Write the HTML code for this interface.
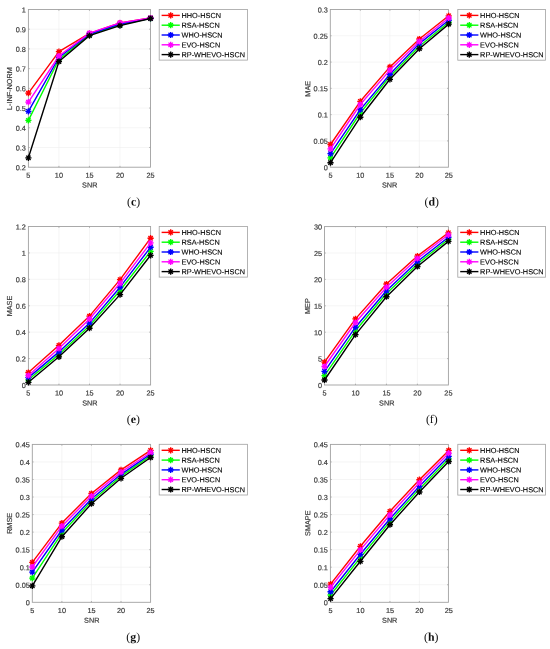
<!DOCTYPE html>
<html lang="en"><head><meta charset="utf-8"><title>Figure: error metrics versus SNR</title>
<style>html,body{margin:0;padding:0;background:#fff;}svg{display:block;}text{font-family:"Liberation Sans",Arial,sans-serif;text-rendering:geometricPrecision;stroke-width:0.18;paint-order:stroke fill;}.lg{stroke-width:0.12;}text.cap{stroke:none;font-family:"Liberation Serif","Times New Roman",serif;}</style></head><body>
<svg width="550" height="649" viewBox="0 0 550 649">
<rect x="0" y="0" width="550" height="649" fill="#ffffff"/>
<g id="plot-c">
<path d="M58.92 9.50V167.20M89.45 9.50V167.20M119.97 9.50V167.20M28.40 147.49H150.50M28.40 127.77H150.50M28.40 108.06H150.50M28.40 88.35H150.50M28.40 68.64H150.50M28.40 48.92H150.50M28.40 29.21H150.50" stroke="#efefef" stroke-width="0.6" fill="none"/>
<rect x="28.40" y="9.50" width="122.10" height="157.70" fill="none" stroke="#a0a0a0" stroke-width="0.9"/>
<path d="M58.92 167.20v-1.3M58.92 9.50v1.3M89.45 167.20v-1.3M89.45 9.50v1.3M119.97 167.20v-1.3M119.97 9.50v1.3M28.40 147.49h1.3M150.50 147.49h-1.3M28.40 127.77h1.3M150.50 127.77h-1.3M28.40 108.06h1.3M150.50 108.06h-1.3M28.40 88.35h1.3M150.50 88.35h-1.3M28.40 68.64h1.3M150.50 68.64h-1.3M28.40 48.92h1.3M150.50 48.92h-1.3M28.40 29.21h1.3M150.50 29.21h-1.3" stroke="#a0a0a0" stroke-width="0.8" fill="none"/>
<text transform="translate(28.40 177.80) rotate(0.04)" font-size="7.3" fill="#3a3a3a" stroke="#3a3a3a" text-anchor="middle">5</text>
<text transform="translate(58.92 177.80) rotate(0.04)" font-size="7.3" fill="#3a3a3a" stroke="#3a3a3a" text-anchor="middle">10</text>
<text transform="translate(89.45 177.80) rotate(0.04)" font-size="7.3" fill="#3a3a3a" stroke="#3a3a3a" text-anchor="middle">15</text>
<text transform="translate(119.97 177.80) rotate(0.04)" font-size="7.3" fill="#3a3a3a" stroke="#3a3a3a" text-anchor="middle">20</text>
<text transform="translate(150.50 177.80) rotate(0.04)" font-size="7.3" fill="#3a3a3a" stroke="#3a3a3a" text-anchor="middle">25</text>
<text transform="translate(25.90 170.15) rotate(0.04)" font-size="7.3" fill="#3a3a3a" stroke="#3a3a3a" text-anchor="end">0.2</text>
<text transform="translate(25.90 150.44) rotate(0.04)" font-size="7.3" fill="#3a3a3a" stroke="#3a3a3a" text-anchor="end">0.3</text>
<text transform="translate(25.90 130.72) rotate(0.04)" font-size="7.3" fill="#3a3a3a" stroke="#3a3a3a" text-anchor="end">0.4</text>
<text transform="translate(25.90 111.01) rotate(0.04)" font-size="7.3" fill="#3a3a3a" stroke="#3a3a3a" text-anchor="end">0.5</text>
<text transform="translate(25.90 91.30) rotate(0.04)" font-size="7.3" fill="#3a3a3a" stroke="#3a3a3a" text-anchor="end">0.6</text>
<text transform="translate(25.90 71.59) rotate(0.04)" font-size="7.3" fill="#3a3a3a" stroke="#3a3a3a" text-anchor="end">0.7</text>
<text transform="translate(25.90 51.88) rotate(0.04)" font-size="7.3" fill="#3a3a3a" stroke="#3a3a3a" text-anchor="end">0.8</text>
<text transform="translate(25.90 32.16) rotate(0.04)" font-size="7.3" fill="#3a3a3a" stroke="#3a3a3a" text-anchor="end">0.9</text>
<text transform="translate(25.90 12.45) rotate(0.04)" font-size="7.3" fill="#3a3a3a" stroke="#3a3a3a" text-anchor="end">1</text>
<text transform="translate(89.75 187.60) rotate(0.04)" font-size="7.25" fill="#3a3a3a" stroke="#3a3a3a" text-anchor="middle">SNR</text>
<text transform="translate(12.10 88.60) rotate(-89.96)" font-size="7.25" fill="#3a3a3a" stroke="#3a3a3a" text-anchor="middle">L-INF-NORM</text>
<polyline points="28.40,93.10 58.92,51.60 89.45,33.30 119.97,23.00 150.50,18.00" fill="none" stroke="#ff0000" stroke-width="1.4" stroke-linejoin="round"/>
<path d="M25.30 93.10H31.50M28.40 90.00V96.20M26.21 90.91L30.59 95.29M26.21 95.29L30.59 90.91" stroke="#ff0000" stroke-width="1.35" fill="none"/>
<path d="M55.82 51.60H62.02M58.92 48.50V54.70M56.73 49.41L61.12 53.79M56.73 53.79L61.12 49.41" stroke="#ff0000" stroke-width="1.35" fill="none"/>
<path d="M86.35 33.30H92.55M89.45 30.20V36.40M87.26 31.11L91.64 35.49M87.26 35.49L91.64 31.11" stroke="#ff0000" stroke-width="1.35" fill="none"/>
<path d="M116.88 23.00H123.07M119.97 19.90V26.10M117.78 20.81L122.17 25.19M117.78 25.19L122.17 20.81" stroke="#ff0000" stroke-width="1.35" fill="none"/>
<path d="M147.40 18.00H153.60M150.50 14.90V21.10M148.31 15.81L152.69 20.19M148.31 20.19L152.69 15.81" stroke="#ff0000" stroke-width="1.35" fill="none"/>
<polyline points="28.40,120.40 58.92,59.50 89.45,34.80 119.97,24.80 150.50,18.40" fill="none" stroke="#00ff00" stroke-width="1.4" stroke-linejoin="round"/>
<path d="M25.30 120.40H31.50M28.40 117.30V123.50M26.21 118.21L30.59 122.59M26.21 122.59L30.59 118.21" stroke="#00ff00" stroke-width="1.35" fill="none"/>
<path d="M55.82 59.50H62.02M58.92 56.40V62.60M56.73 57.31L61.12 61.69M56.73 61.69L61.12 57.31" stroke="#00ff00" stroke-width="1.35" fill="none"/>
<path d="M86.35 34.80H92.55M89.45 31.70V37.90M87.26 32.61L91.64 36.99M87.26 36.99L91.64 32.61" stroke="#00ff00" stroke-width="1.35" fill="none"/>
<path d="M116.88 24.80H123.07M119.97 21.70V27.90M117.78 22.61L122.17 26.99M117.78 26.99L122.17 22.61" stroke="#00ff00" stroke-width="1.35" fill="none"/>
<path d="M147.40 18.40H153.60M150.50 15.30V21.50M148.31 16.21L152.69 20.59M148.31 20.59L152.69 16.21" stroke="#00ff00" stroke-width="1.35" fill="none"/>
<polyline points="28.40,111.30 58.92,57.50 89.45,34.00 119.97,24.00 150.50,18.20" fill="none" stroke="#0000ff" stroke-width="1.4" stroke-linejoin="round"/>
<path d="M25.30 111.30H31.50M28.40 108.20V114.40M26.21 109.11L30.59 113.49M26.21 113.49L30.59 109.11" stroke="#0000ff" stroke-width="1.35" fill="none"/>
<path d="M55.82 57.50H62.02M58.92 54.40V60.60M56.73 55.31L61.12 59.69M56.73 59.69L61.12 55.31" stroke="#0000ff" stroke-width="1.35" fill="none"/>
<path d="M86.35 34.00H92.55M89.45 30.90V37.10M87.26 31.81L91.64 36.19M87.26 36.19L91.64 31.81" stroke="#0000ff" stroke-width="1.35" fill="none"/>
<path d="M116.88 24.00H123.07M119.97 20.90V27.10M117.78 21.81L122.17 26.19M117.78 26.19L122.17 21.81" stroke="#0000ff" stroke-width="1.35" fill="none"/>
<path d="M147.40 18.20H153.60M150.50 15.10V21.30M148.31 16.01L152.69 20.39M148.31 20.39L152.69 16.01" stroke="#0000ff" stroke-width="1.35" fill="none"/>
<polyline points="28.40,102.10 58.92,56.00 89.45,33.10 119.97,22.90 150.50,18.00" fill="none" stroke="#ff00ff" stroke-width="1.4" stroke-linejoin="round"/>
<path d="M25.30 102.10H31.50M28.40 99.00V105.20M26.21 99.91L30.59 104.29M26.21 104.29L30.59 99.91" stroke="#ff00ff" stroke-width="1.35" fill="none"/>
<path d="M55.82 56.00H62.02M58.92 52.90V59.10M56.73 53.81L61.12 58.19M56.73 58.19L61.12 53.81" stroke="#ff00ff" stroke-width="1.35" fill="none"/>
<path d="M86.35 33.10H92.55M89.45 30.00V36.20M87.26 30.91L91.64 35.29M87.26 35.29L91.64 30.91" stroke="#ff00ff" stroke-width="1.35" fill="none"/>
<path d="M116.88 22.90H123.07M119.97 19.80V26.00M117.78 20.71L122.17 25.09M117.78 25.09L122.17 20.71" stroke="#ff00ff" stroke-width="1.35" fill="none"/>
<path d="M147.40 18.00H153.60M150.50 14.90V21.10M148.31 15.81L152.69 20.19M148.31 20.19L152.69 15.81" stroke="#ff00ff" stroke-width="1.35" fill="none"/>
<polyline points="28.40,157.80 58.92,61.50 89.45,35.60 119.97,25.60 150.50,18.50" fill="none" stroke="#000000" stroke-width="1.4" stroke-linejoin="round"/>
<path d="M25.30 157.80H31.50M28.40 154.70V160.90M26.21 155.61L30.59 159.99M26.21 159.99L30.59 155.61" stroke="#000000" stroke-width="1.35" fill="none"/>
<path d="M55.82 61.50H62.02M58.92 58.40V64.60M56.73 59.31L61.12 63.69M56.73 63.69L61.12 59.31" stroke="#000000" stroke-width="1.35" fill="none"/>
<path d="M86.35 35.60H92.55M89.45 32.50V38.70M87.26 33.41L91.64 37.79M87.26 37.79L91.64 33.41" stroke="#000000" stroke-width="1.35" fill="none"/>
<path d="M116.88 25.60H123.07M119.97 22.50V28.70M117.78 23.41L122.17 27.79M117.78 27.79L122.17 23.41" stroke="#000000" stroke-width="1.35" fill="none"/>
<path d="M147.40 18.50H153.60M150.50 15.40V21.60M148.31 16.31L152.69 20.69M148.31 20.69L152.69 16.31" stroke="#000000" stroke-width="1.35" fill="none"/>
<rect x="159.20" y="9.40" width="88.20" height="50.70" fill="#ffffff" stroke="#a0a0a0" stroke-width="0.8"/>
<path d="M161.60 15.40H179.80" stroke="#ff0000" stroke-width="1.4"/>
<path d="M167.60 15.40H173.80M170.70 12.30V18.50M168.51 13.21L172.89 17.59M168.51 17.59L172.89 13.21" stroke="#ff0000" stroke-width="1.35" fill="none"/>
<text class="lg" transform="translate(181.50 18.00) rotate(0.04)" font-size="7.33" fill="#000000" stroke="#000000">HHO-HSCN</text>
<path d="M161.60 25.20H179.80" stroke="#00ff00" stroke-width="1.4"/>
<path d="M167.60 25.20H173.80M170.70 22.10V28.30M168.51 23.01L172.89 27.39M168.51 27.39L172.89 23.01" stroke="#00ff00" stroke-width="1.35" fill="none"/>
<text class="lg" transform="translate(181.50 27.80) rotate(0.04)" font-size="7.33" fill="#000000" stroke="#000000">RSA-HSCN</text>
<path d="M161.60 35.00H179.80" stroke="#0000ff" stroke-width="1.4"/>
<path d="M167.60 35.00H173.80M170.70 31.90V38.10M168.51 32.81L172.89 37.19M168.51 37.19L172.89 32.81" stroke="#0000ff" stroke-width="1.35" fill="none"/>
<text class="lg" transform="translate(181.50 37.60) rotate(0.04)" font-size="7.33" fill="#000000" stroke="#000000">WHO-HSCN</text>
<path d="M161.60 44.80H179.80" stroke="#ff00ff" stroke-width="1.4"/>
<path d="M167.60 44.80H173.80M170.70 41.70V47.90M168.51 42.61L172.89 46.99M168.51 46.99L172.89 42.61" stroke="#ff00ff" stroke-width="1.35" fill="none"/>
<text class="lg" transform="translate(181.50 47.40) rotate(0.04)" font-size="7.33" fill="#000000" stroke="#000000">EVO-HSCN</text>
<path d="M161.60 54.60H179.80" stroke="#000000" stroke-width="1.4"/>
<path d="M167.60 54.60H173.80M170.70 51.50V57.70M168.51 52.41L172.89 56.79M168.51 56.79L172.89 52.41" stroke="#000000" stroke-width="1.35" fill="none"/>
<text class="lg" transform="translate(181.50 57.20) rotate(0.04)" font-size="7.33" fill="#000000" stroke="#000000">RP-WHEVO-HSCN</text>
<text class="cap" transform="translate(133.50 205.60) rotate(0.04)" font-size="11.8" fill="#111" text-anchor="middle">(<tspan font-weight="bold">c</tspan>)</text>
</g>
<g id="plot-d">
<path d="M360.32 9.50V167.20M389.90 9.50V167.20M419.38 9.50V167.20M330.30 140.92H448.40M330.30 114.63H448.40M330.30 88.35H448.40M330.30 62.07H448.40M330.30 35.78H448.40" stroke="#efefef" stroke-width="0.6" fill="none"/>
<rect x="330.30" y="9.50" width="118.10" height="157.70" fill="none" stroke="#a0a0a0" stroke-width="0.9"/>
<path d="M360.32 167.20v-1.3M360.32 9.50v1.3M389.90 167.20v-1.3M389.90 9.50v1.3M419.38 167.20v-1.3M419.38 9.50v1.3M330.30 140.92h1.3M448.40 140.92h-1.3M330.30 114.63h1.3M448.40 114.63h-1.3M330.30 88.35h1.3M448.40 88.35h-1.3M330.30 62.07h1.3M448.40 62.07h-1.3M330.30 35.78h1.3M448.40 35.78h-1.3" stroke="#a0a0a0" stroke-width="0.8" fill="none"/>
<text transform="translate(330.50 177.80) rotate(0.04)" font-size="7.3" fill="#3a3a3a" stroke="#3a3a3a" text-anchor="middle">5</text>
<text transform="translate(360.32 177.80) rotate(0.04)" font-size="7.3" fill="#3a3a3a" stroke="#3a3a3a" text-anchor="middle">10</text>
<text transform="translate(389.90 177.80) rotate(0.04)" font-size="7.3" fill="#3a3a3a" stroke="#3a3a3a" text-anchor="middle">15</text>
<text transform="translate(419.38 177.80) rotate(0.04)" font-size="7.3" fill="#3a3a3a" stroke="#3a3a3a" text-anchor="middle">20</text>
<text transform="translate(448.70 177.80) rotate(0.04)" font-size="7.3" fill="#3a3a3a" stroke="#3a3a3a" text-anchor="middle">25</text>
<text transform="translate(327.80 170.15) rotate(0.04)" font-size="7.3" fill="#3a3a3a" stroke="#3a3a3a" text-anchor="end">0</text>
<text transform="translate(327.80 143.87) rotate(0.04)" font-size="7.3" fill="#3a3a3a" stroke="#3a3a3a" text-anchor="end">0.05</text>
<text transform="translate(327.80 117.58) rotate(0.04)" font-size="7.3" fill="#3a3a3a" stroke="#3a3a3a" text-anchor="end">0.1</text>
<text transform="translate(327.80 91.30) rotate(0.04)" font-size="7.3" fill="#3a3a3a" stroke="#3a3a3a" text-anchor="end">0.15</text>
<text transform="translate(327.80 65.02) rotate(0.04)" font-size="7.3" fill="#3a3a3a" stroke="#3a3a3a" text-anchor="end">0.2</text>
<text transform="translate(327.80 38.73) rotate(0.04)" font-size="7.3" fill="#3a3a3a" stroke="#3a3a3a" text-anchor="end">0.25</text>
<text transform="translate(327.80 12.45) rotate(0.04)" font-size="7.3" fill="#3a3a3a" stroke="#3a3a3a" text-anchor="end">0.3</text>
<text transform="translate(389.65 187.60) rotate(0.04)" font-size="7.25" fill="#3a3a3a" stroke="#3a3a3a" text-anchor="middle">SNR</text>
<text transform="translate(310.30 88.80) rotate(-89.96)" font-size="7.25" fill="#3a3a3a" stroke="#3a3a3a" text-anchor="middle">MAE</text>
<polyline points="330.50,144.50 360.32,101.30 389.90,66.90 419.38,39.00 448.70,15.80" fill="none" stroke="#ff0000" stroke-width="1.4" stroke-linejoin="round"/>
<path d="M327.40 144.50H333.60M330.50 141.40V147.60M328.31 142.31L332.69 146.69M328.31 146.69L332.69 142.31" stroke="#ff0000" stroke-width="1.35" fill="none"/>
<path d="M357.22 101.30H363.43M360.32 98.20V104.40M358.13 99.11L362.52 103.49M358.13 103.49L362.52 99.11" stroke="#ff0000" stroke-width="1.35" fill="none"/>
<path d="M386.80 66.90H393.00M389.90 63.80V70.00M387.71 64.71L392.09 69.09M387.71 69.09L392.09 64.71" stroke="#ff0000" stroke-width="1.35" fill="none"/>
<path d="M416.27 39.00H422.48M419.38 35.90V42.10M417.18 36.81L421.57 41.19M417.18 41.19L421.57 36.81" stroke="#ff0000" stroke-width="1.35" fill="none"/>
<path d="M445.60 15.80H451.80M448.70 12.70V18.90M446.51 13.61L450.89 17.99M446.51 17.99L450.89 13.61" stroke="#ff0000" stroke-width="1.35" fill="none"/>
<polyline points="330.50,157.90 360.32,113.00 389.90,76.40 419.38,46.30 448.70,22.20" fill="none" stroke="#00ff00" stroke-width="1.4" stroke-linejoin="round"/>
<path d="M327.40 157.90H333.60M330.50 154.80V161.00M328.31 155.71L332.69 160.09M328.31 160.09L332.69 155.71" stroke="#00ff00" stroke-width="1.35" fill="none"/>
<path d="M357.22 113.00H363.43M360.32 109.90V116.10M358.13 110.81L362.52 115.19M358.13 115.19L362.52 110.81" stroke="#00ff00" stroke-width="1.35" fill="none"/>
<path d="M386.80 76.40H393.00M389.90 73.30V79.50M387.71 74.21L392.09 78.59M387.71 78.59L392.09 74.21" stroke="#00ff00" stroke-width="1.35" fill="none"/>
<path d="M416.27 46.30H422.48M419.38 43.20V49.40M417.18 44.11L421.57 48.49M417.18 48.49L421.57 44.11" stroke="#00ff00" stroke-width="1.35" fill="none"/>
<path d="M445.60 22.20H451.80M448.70 19.10V25.30M446.51 20.01L450.89 24.39M446.51 24.39L450.89 20.01" stroke="#00ff00" stroke-width="1.35" fill="none"/>
<polyline points="330.50,153.60 360.32,109.60 389.90,74.20 419.38,43.60 448.70,20.20" fill="none" stroke="#0000ff" stroke-width="1.4" stroke-linejoin="round"/>
<path d="M327.40 153.60H333.60M330.50 150.50V156.70M328.31 151.41L332.69 155.79M328.31 155.79L332.69 151.41" stroke="#0000ff" stroke-width="1.35" fill="none"/>
<path d="M357.22 109.60H363.43M360.32 106.50V112.70M358.13 107.41L362.52 111.79M358.13 111.79L362.52 107.41" stroke="#0000ff" stroke-width="1.35" fill="none"/>
<path d="M386.80 74.20H393.00M389.90 71.10V77.30M387.71 72.01L392.09 76.39M387.71 76.39L392.09 72.01" stroke="#0000ff" stroke-width="1.35" fill="none"/>
<path d="M416.27 43.60H422.48M419.38 40.50V46.70M417.18 41.41L421.57 45.79M417.18 45.79L421.57 41.41" stroke="#0000ff" stroke-width="1.35" fill="none"/>
<path d="M445.60 20.20H451.80M448.70 17.10V23.30M446.51 18.01L450.89 22.39M446.51 22.39L450.89 18.01" stroke="#0000ff" stroke-width="1.35" fill="none"/>
<polyline points="330.50,148.90 360.32,104.50 389.90,70.10 419.38,41.50 448.70,18.00" fill="none" stroke="#ff00ff" stroke-width="1.4" stroke-linejoin="round"/>
<path d="M327.40 148.90H333.60M330.50 145.80V152.00M328.31 146.71L332.69 151.09M328.31 151.09L332.69 146.71" stroke="#ff00ff" stroke-width="1.35" fill="none"/>
<path d="M357.22 104.50H363.43M360.32 101.40V107.60M358.13 102.31L362.52 106.69M358.13 106.69L362.52 102.31" stroke="#ff00ff" stroke-width="1.35" fill="none"/>
<path d="M386.80 70.10H393.00M389.90 67.00V73.20M387.71 67.91L392.09 72.29M387.71 72.29L392.09 67.91" stroke="#ff00ff" stroke-width="1.35" fill="none"/>
<path d="M416.27 41.50H422.48M419.38 38.40V44.60M417.18 39.31L421.57 43.69M417.18 43.69L421.57 39.31" stroke="#ff00ff" stroke-width="1.35" fill="none"/>
<path d="M445.60 18.00H451.80M448.70 14.90V21.10M446.51 15.81L450.89 20.19M446.51 20.19L450.89 15.81" stroke="#ff00ff" stroke-width="1.35" fill="none"/>
<polyline points="330.50,162.70 360.32,117.20 389.90,79.30 419.38,48.70 448.70,24.10" fill="none" stroke="#000000" stroke-width="1.4" stroke-linejoin="round"/>
<path d="M327.40 162.70H333.60M330.50 159.60V165.80M328.31 160.51L332.69 164.89M328.31 164.89L332.69 160.51" stroke="#000000" stroke-width="1.35" fill="none"/>
<path d="M357.22 117.20H363.43M360.32 114.10V120.30M358.13 115.01L362.52 119.39M358.13 119.39L362.52 115.01" stroke="#000000" stroke-width="1.35" fill="none"/>
<path d="M386.80 79.30H393.00M389.90 76.20V82.40M387.71 77.11L392.09 81.49M387.71 81.49L392.09 77.11" stroke="#000000" stroke-width="1.35" fill="none"/>
<path d="M416.27 48.70H422.48M419.38 45.60V51.80M417.18 46.51L421.57 50.89M417.18 50.89L421.57 46.51" stroke="#000000" stroke-width="1.35" fill="none"/>
<path d="M445.60 24.10H451.80M448.70 21.00V27.20M446.51 21.91L450.89 26.29M446.51 26.29L450.89 21.91" stroke="#000000" stroke-width="1.35" fill="none"/>
<rect x="457.80" y="9.40" width="87.60" height="50.80" fill="#ffffff" stroke="#a0a0a0" stroke-width="0.8"/>
<path d="M460.20 15.40H478.40" stroke="#ff0000" stroke-width="1.4"/>
<path d="M466.20 15.40H472.40M469.30 12.30V18.50M467.11 13.21L471.49 17.59M467.11 17.59L471.49 13.21" stroke="#ff0000" stroke-width="1.35" fill="none"/>
<text class="lg" transform="translate(480.10 18.00) rotate(0.04)" font-size="7.33" fill="#000000" stroke="#000000">HHO-HSCN</text>
<path d="M460.20 25.20H478.40" stroke="#00ff00" stroke-width="1.4"/>
<path d="M466.20 25.20H472.40M469.30 22.10V28.30M467.11 23.01L471.49 27.39M467.11 27.39L471.49 23.01" stroke="#00ff00" stroke-width="1.35" fill="none"/>
<text class="lg" transform="translate(480.10 27.80) rotate(0.04)" font-size="7.33" fill="#000000" stroke="#000000">RSA-HSCN</text>
<path d="M460.20 35.00H478.40" stroke="#0000ff" stroke-width="1.4"/>
<path d="M466.20 35.00H472.40M469.30 31.90V38.10M467.11 32.81L471.49 37.19M467.11 37.19L471.49 32.81" stroke="#0000ff" stroke-width="1.35" fill="none"/>
<text class="lg" transform="translate(480.10 37.60) rotate(0.04)" font-size="7.33" fill="#000000" stroke="#000000">WHO-HSCN</text>
<path d="M460.20 44.80H478.40" stroke="#ff00ff" stroke-width="1.4"/>
<path d="M466.20 44.80H472.40M469.30 41.70V47.90M467.11 42.61L471.49 46.99M467.11 46.99L471.49 42.61" stroke="#ff00ff" stroke-width="1.35" fill="none"/>
<text class="lg" transform="translate(480.10 47.40) rotate(0.04)" font-size="7.33" fill="#000000" stroke="#000000">EVO-HSCN</text>
<path d="M460.20 54.60H478.40" stroke="#000000" stroke-width="1.4"/>
<path d="M466.20 54.60H472.40M469.30 51.50V57.70M467.11 52.41L471.49 56.79M467.11 56.79L471.49 52.41" stroke="#000000" stroke-width="1.35" fill="none"/>
<text class="lg" transform="translate(480.10 57.20) rotate(0.04)" font-size="7.33" fill="#000000" stroke="#000000">RP-WHEVO-HSCN</text>
<text class="cap" transform="translate(431.80 205.60) rotate(0.04)" font-size="11.8" fill="#111" text-anchor="middle">(<tspan font-weight="bold">d</tspan>)</text>
</g>
<g id="plot-e">
<path d="M58.95 226.50V385.00M89.50 226.50V385.00M120.05 226.50V385.00M28.40 358.58H150.60M28.40 332.17H150.60M28.40 305.75H150.60M28.40 279.33H150.60M28.40 252.92H150.60" stroke="#efefef" stroke-width="0.6" fill="none"/>
<rect x="28.40" y="226.50" width="122.20" height="158.50" fill="none" stroke="#a0a0a0" stroke-width="0.9"/>
<path d="M58.95 385.00v-1.3M58.95 226.50v1.3M89.50 385.00v-1.3M89.50 226.50v1.3M120.05 385.00v-1.3M120.05 226.50v1.3M28.40 358.58h1.3M150.60 358.58h-1.3M28.40 332.17h1.3M150.60 332.17h-1.3M28.40 305.75h1.3M150.60 305.75h-1.3M28.40 279.33h1.3M150.60 279.33h-1.3M28.40 252.92h1.3M150.60 252.92h-1.3" stroke="#a0a0a0" stroke-width="0.8" fill="none"/>
<text transform="translate(28.40 395.60) rotate(0.04)" font-size="7.3" fill="#3a3a3a" stroke="#3a3a3a" text-anchor="middle">5</text>
<text transform="translate(58.95 395.60) rotate(0.04)" font-size="7.3" fill="#3a3a3a" stroke="#3a3a3a" text-anchor="middle">10</text>
<text transform="translate(89.50 395.60) rotate(0.04)" font-size="7.3" fill="#3a3a3a" stroke="#3a3a3a" text-anchor="middle">15</text>
<text transform="translate(120.05 395.60) rotate(0.04)" font-size="7.3" fill="#3a3a3a" stroke="#3a3a3a" text-anchor="middle">20</text>
<text transform="translate(150.60 395.60) rotate(0.04)" font-size="7.3" fill="#3a3a3a" stroke="#3a3a3a" text-anchor="middle">25</text>
<text transform="translate(25.90 387.95) rotate(0.04)" font-size="7.3" fill="#3a3a3a" stroke="#3a3a3a" text-anchor="end">0</text>
<text transform="translate(25.90 361.53) rotate(0.04)" font-size="7.3" fill="#3a3a3a" stroke="#3a3a3a" text-anchor="end">0.2</text>
<text transform="translate(25.90 335.12) rotate(0.04)" font-size="7.3" fill="#3a3a3a" stroke="#3a3a3a" text-anchor="end">0.4</text>
<text transform="translate(25.90 308.70) rotate(0.04)" font-size="7.3" fill="#3a3a3a" stroke="#3a3a3a" text-anchor="end">0.6</text>
<text transform="translate(25.90 282.28) rotate(0.04)" font-size="7.3" fill="#3a3a3a" stroke="#3a3a3a" text-anchor="end">0.8</text>
<text transform="translate(25.90 255.87) rotate(0.04)" font-size="7.3" fill="#3a3a3a" stroke="#3a3a3a" text-anchor="end">1</text>
<text transform="translate(25.90 229.45) rotate(0.04)" font-size="7.3" fill="#3a3a3a" stroke="#3a3a3a" text-anchor="end">1.2</text>
<text transform="translate(89.80 405.40) rotate(0.04)" font-size="7.25" fill="#3a3a3a" stroke="#3a3a3a" text-anchor="middle">SNR</text>
<text transform="translate(12.10 306.00) rotate(-89.96)" font-size="7.25" fill="#3a3a3a" stroke="#3a3a3a" text-anchor="middle">MASE</text>
<polyline points="28.40,372.50 58.95,345.30 89.50,316.10 120.05,279.60 150.60,238.20" fill="none" stroke="#ff0000" stroke-width="1.4" stroke-linejoin="round"/>
<path d="M25.30 372.50H31.50M28.40 369.40V375.60M26.21 370.31L30.59 374.69M26.21 374.69L30.59 370.31" stroke="#ff0000" stroke-width="1.35" fill="none"/>
<path d="M55.85 345.30H62.05M58.95 342.20V348.40M56.76 343.11L61.14 347.49M56.76 347.49L61.14 343.11" stroke="#ff0000" stroke-width="1.35" fill="none"/>
<path d="M86.40 316.10H92.60M89.50 313.00V319.20M87.31 313.91L91.69 318.29M87.31 318.29L91.69 313.91" stroke="#ff0000" stroke-width="1.35" fill="none"/>
<path d="M116.95 279.60H123.15M120.05 276.50V282.70M117.86 277.41L122.24 281.79M117.86 281.79L122.24 277.41" stroke="#ff0000" stroke-width="1.35" fill="none"/>
<path d="M147.50 238.20H153.70M150.60 235.10V241.30M148.41 236.01L152.79 240.39M148.41 240.39L152.79 236.01" stroke="#ff0000" stroke-width="1.35" fill="none"/>
<polyline points="28.40,379.80 58.95,354.40 89.50,325.70 120.05,290.50 150.60,251.30" fill="none" stroke="#00ff00" stroke-width="1.4" stroke-linejoin="round"/>
<path d="M25.30 379.80H31.50M28.40 376.70V382.90M26.21 377.61L30.59 381.99M26.21 381.99L30.59 377.61" stroke="#00ff00" stroke-width="1.35" fill="none"/>
<path d="M55.85 354.40H62.05M58.95 351.30V357.50M56.76 352.21L61.14 356.59M56.76 356.59L61.14 352.21" stroke="#00ff00" stroke-width="1.35" fill="none"/>
<path d="M86.40 325.70H92.60M89.50 322.60V328.80M87.31 323.51L91.69 327.89M87.31 327.89L91.69 323.51" stroke="#00ff00" stroke-width="1.35" fill="none"/>
<path d="M116.95 290.50H123.15M120.05 287.40V293.60M117.86 288.31L122.24 292.69M117.86 292.69L122.24 288.31" stroke="#00ff00" stroke-width="1.35" fill="none"/>
<path d="M147.50 251.30H153.70M150.60 248.20V254.40M148.41 249.11L152.79 253.49M148.41 253.49L152.79 249.11" stroke="#00ff00" stroke-width="1.35" fill="none"/>
<polyline points="28.40,377.60 58.95,351.90 89.50,323.10 120.05,287.20 150.60,247.20" fill="none" stroke="#0000ff" stroke-width="1.4" stroke-linejoin="round"/>
<path d="M25.30 377.60H31.50M28.40 374.50V380.70M26.21 375.41L30.59 379.79M26.21 379.79L30.59 375.41" stroke="#0000ff" stroke-width="1.35" fill="none"/>
<path d="M55.85 351.90H62.05M58.95 348.80V355.00M56.76 349.71L61.14 354.09M56.76 354.09L61.14 349.71" stroke="#0000ff" stroke-width="1.35" fill="none"/>
<path d="M86.40 323.10H92.60M89.50 320.00V326.20M87.31 320.91L91.69 325.29M87.31 325.29L91.69 320.91" stroke="#0000ff" stroke-width="1.35" fill="none"/>
<path d="M116.95 287.20H123.15M120.05 284.10V290.30M117.86 285.01L122.24 289.39M117.86 289.39L122.24 285.01" stroke="#0000ff" stroke-width="1.35" fill="none"/>
<path d="M147.50 247.20H153.70M150.60 244.10V250.30M148.41 245.01L152.79 249.39M148.41 249.39L152.79 245.01" stroke="#0000ff" stroke-width="1.35" fill="none"/>
<polyline points="28.40,375.50 58.95,348.50 89.50,319.00 120.05,283.30 150.60,242.80" fill="none" stroke="#ff00ff" stroke-width="1.4" stroke-linejoin="round"/>
<path d="M25.30 375.50H31.50M28.40 372.40V378.60M26.21 373.31L30.59 377.69M26.21 377.69L30.59 373.31" stroke="#ff00ff" stroke-width="1.35" fill="none"/>
<path d="M55.85 348.50H62.05M58.95 345.40V351.60M56.76 346.31L61.14 350.69M56.76 350.69L61.14 346.31" stroke="#ff00ff" stroke-width="1.35" fill="none"/>
<path d="M86.40 319.00H92.60M89.50 315.90V322.10M87.31 316.81L91.69 321.19M87.31 321.19L91.69 316.81" stroke="#ff00ff" stroke-width="1.35" fill="none"/>
<path d="M116.95 283.30H123.15M120.05 280.20V286.40M117.86 281.11L122.24 285.49M117.86 285.49L122.24 281.11" stroke="#ff00ff" stroke-width="1.35" fill="none"/>
<path d="M147.50 242.80H153.70M150.60 239.70V245.90M148.41 240.61L152.79 244.99M148.41 244.99L152.79 240.61" stroke="#ff00ff" stroke-width="1.35" fill="none"/>
<polyline points="28.40,382.30 58.95,356.80 89.50,328.20 120.05,294.60 150.60,255.30" fill="none" stroke="#000000" stroke-width="1.4" stroke-linejoin="round"/>
<path d="M25.30 382.30H31.50M28.40 379.20V385.40M26.21 380.11L30.59 384.49M26.21 384.49L30.59 380.11" stroke="#000000" stroke-width="1.35" fill="none"/>
<path d="M55.85 356.80H62.05M58.95 353.70V359.90M56.76 354.61L61.14 358.99M56.76 358.99L61.14 354.61" stroke="#000000" stroke-width="1.35" fill="none"/>
<path d="M86.40 328.20H92.60M89.50 325.10V331.30M87.31 326.01L91.69 330.39M87.31 330.39L91.69 326.01" stroke="#000000" stroke-width="1.35" fill="none"/>
<path d="M116.95 294.60H123.15M120.05 291.50V297.70M117.86 292.41L122.24 296.79M117.86 296.79L122.24 292.41" stroke="#000000" stroke-width="1.35" fill="none"/>
<path d="M147.50 255.30H153.70M150.60 252.20V258.40M148.41 253.11L152.79 257.49M148.41 257.49L152.79 253.11" stroke="#000000" stroke-width="1.35" fill="none"/>
<rect x="159.20" y="226.40" width="88.20" height="50.70" fill="#ffffff" stroke="#a0a0a0" stroke-width="0.8"/>
<path d="M161.60 232.40H179.80" stroke="#ff0000" stroke-width="1.4"/>
<path d="M167.60 232.40H173.80M170.70 229.30V235.50M168.51 230.21L172.89 234.59M168.51 234.59L172.89 230.21" stroke="#ff0000" stroke-width="1.35" fill="none"/>
<text class="lg" transform="translate(181.50 235.00) rotate(0.04)" font-size="7.33" fill="#000000" stroke="#000000">HHO-HSCN</text>
<path d="M161.60 242.20H179.80" stroke="#00ff00" stroke-width="1.4"/>
<path d="M167.60 242.20H173.80M170.70 239.10V245.30M168.51 240.01L172.89 244.39M168.51 244.39L172.89 240.01" stroke="#00ff00" stroke-width="1.35" fill="none"/>
<text class="lg" transform="translate(181.50 244.80) rotate(0.04)" font-size="7.33" fill="#000000" stroke="#000000">RSA-HSCN</text>
<path d="M161.60 252.00H179.80" stroke="#0000ff" stroke-width="1.4"/>
<path d="M167.60 252.00H173.80M170.70 248.90V255.10M168.51 249.81L172.89 254.19M168.51 254.19L172.89 249.81" stroke="#0000ff" stroke-width="1.35" fill="none"/>
<text class="lg" transform="translate(181.50 254.60) rotate(0.04)" font-size="7.33" fill="#000000" stroke="#000000">WHO-HSCN</text>
<path d="M161.60 261.80H179.80" stroke="#ff00ff" stroke-width="1.4"/>
<path d="M167.60 261.80H173.80M170.70 258.70V264.90M168.51 259.61L172.89 263.99M168.51 263.99L172.89 259.61" stroke="#ff00ff" stroke-width="1.35" fill="none"/>
<text class="lg" transform="translate(181.50 264.40) rotate(0.04)" font-size="7.33" fill="#000000" stroke="#000000">EVO-HSCN</text>
<path d="M161.60 271.60H179.80" stroke="#000000" stroke-width="1.4"/>
<path d="M167.60 271.60H173.80M170.70 268.50V274.70M168.51 269.41L172.89 273.79M168.51 273.79L172.89 269.41" stroke="#000000" stroke-width="1.35" fill="none"/>
<text class="lg" transform="translate(181.50 274.20) rotate(0.04)" font-size="7.33" fill="#000000" stroke="#000000">RP-WHEVO-HSCN</text>
<text class="cap" transform="translate(133.30 423.00) rotate(0.04)" font-size="11.8" fill="#111" text-anchor="middle">(<tspan font-weight="bold">e</tspan>)</text>
</g>
<g id="plot-f">
<path d="M355.48 226.60V385.00M386.45 226.60V385.00M417.42 226.60V385.00M324.50 358.60H448.40M324.50 332.20H448.40M324.50 305.80H448.40M324.50 279.40H448.40M324.50 253.00H448.40" stroke="#efefef" stroke-width="0.6" fill="none"/>
<rect x="324.50" y="226.60" width="123.90" height="158.40" fill="none" stroke="#a0a0a0" stroke-width="0.9"/>
<path d="M355.48 385.00v-1.3M355.48 226.60v1.3M386.45 385.00v-1.3M386.45 226.60v1.3M417.42 385.00v-1.3M417.42 226.60v1.3M324.50 358.60h1.3M448.40 358.60h-1.3M324.50 332.20h1.3M448.40 332.20h-1.3M324.50 305.80h1.3M448.40 305.80h-1.3M324.50 279.40h1.3M448.40 279.40h-1.3M324.50 253.00h1.3M448.40 253.00h-1.3" stroke="#a0a0a0" stroke-width="0.8" fill="none"/>
<text transform="translate(324.50 395.60) rotate(0.04)" font-size="7.3" fill="#3a3a3a" stroke="#3a3a3a" text-anchor="middle">5</text>
<text transform="translate(355.48 395.60) rotate(0.04)" font-size="7.3" fill="#3a3a3a" stroke="#3a3a3a" text-anchor="middle">10</text>
<text transform="translate(386.45 395.60) rotate(0.04)" font-size="7.3" fill="#3a3a3a" stroke="#3a3a3a" text-anchor="middle">15</text>
<text transform="translate(417.42 395.60) rotate(0.04)" font-size="7.3" fill="#3a3a3a" stroke="#3a3a3a" text-anchor="middle">20</text>
<text transform="translate(448.40 395.60) rotate(0.04)" font-size="7.3" fill="#3a3a3a" stroke="#3a3a3a" text-anchor="middle">25</text>
<text transform="translate(322.00 387.95) rotate(0.04)" font-size="7.3" fill="#3a3a3a" stroke="#3a3a3a" text-anchor="end">0</text>
<text transform="translate(322.00 361.55) rotate(0.04)" font-size="7.3" fill="#3a3a3a" stroke="#3a3a3a" text-anchor="end">5</text>
<text transform="translate(322.00 335.15) rotate(0.04)" font-size="7.3" fill="#3a3a3a" stroke="#3a3a3a" text-anchor="end">10</text>
<text transform="translate(322.00 308.75) rotate(0.04)" font-size="7.3" fill="#3a3a3a" stroke="#3a3a3a" text-anchor="end">15</text>
<text transform="translate(322.00 282.35) rotate(0.04)" font-size="7.3" fill="#3a3a3a" stroke="#3a3a3a" text-anchor="end">20</text>
<text transform="translate(322.00 255.95) rotate(0.04)" font-size="7.3" fill="#3a3a3a" stroke="#3a3a3a" text-anchor="end">25</text>
<text transform="translate(322.00 229.55) rotate(0.04)" font-size="7.3" fill="#3a3a3a" stroke="#3a3a3a" text-anchor="end">30</text>
<text transform="translate(386.75 405.40) rotate(0.04)" font-size="7.25" fill="#3a3a3a" stroke="#3a3a3a" text-anchor="middle">SNR</text>
<text transform="translate(310.10 306.10) rotate(-89.96)" font-size="7.25" fill="#3a3a3a" stroke="#3a3a3a" text-anchor="middle">MEP</text>
<polyline points="324.50,362.10 355.48,318.90 386.45,284.00 417.42,256.10 448.40,232.80" fill="none" stroke="#ff0000" stroke-width="1.4" stroke-linejoin="round"/>
<path d="M321.40 362.10H327.60M324.50 359.00V365.20M322.31 359.91L326.69 364.29M322.31 364.29L326.69 359.91" stroke="#ff0000" stroke-width="1.35" fill="none"/>
<path d="M352.38 318.90H358.58M355.48 315.80V322.00M353.28 316.71L357.67 321.09M353.28 321.09L357.67 316.71" stroke="#ff0000" stroke-width="1.35" fill="none"/>
<path d="M383.35 284.00H389.55M386.45 280.90V287.10M384.26 281.81L388.64 286.19M384.26 286.19L388.64 281.81" stroke="#ff0000" stroke-width="1.35" fill="none"/>
<path d="M414.32 256.10H420.52M417.42 253.00V259.20M415.23 253.91L419.62 258.29M415.23 258.29L419.62 253.91" stroke="#ff0000" stroke-width="1.35" fill="none"/>
<path d="M445.30 232.80H451.50M448.40 229.70V235.90M446.21 230.61L450.59 234.99M446.21 234.99L450.59 230.61" stroke="#ff0000" stroke-width="1.35" fill="none"/>
<polyline points="324.50,375.60 355.48,330.80 386.45,293.50 417.42,263.90 448.40,239.20" fill="none" stroke="#00ff00" stroke-width="1.4" stroke-linejoin="round"/>
<path d="M321.40 375.60H327.60M324.50 372.50V378.70M322.31 373.41L326.69 377.79M322.31 377.79L326.69 373.41" stroke="#00ff00" stroke-width="1.35" fill="none"/>
<path d="M352.38 330.80H358.58M355.48 327.70V333.90M353.28 328.61L357.67 332.99M353.28 332.99L357.67 328.61" stroke="#00ff00" stroke-width="1.35" fill="none"/>
<path d="M383.35 293.50H389.55M386.45 290.40V296.60M384.26 291.31L388.64 295.69M384.26 295.69L388.64 291.31" stroke="#00ff00" stroke-width="1.35" fill="none"/>
<path d="M414.32 263.90H420.52M417.42 260.80V267.00M415.23 261.71L419.62 266.09M415.23 266.09L419.62 261.71" stroke="#00ff00" stroke-width="1.35" fill="none"/>
<path d="M445.30 239.20H451.50M448.40 236.10V242.30M446.21 237.01L450.59 241.39M446.21 241.39L450.59 237.01" stroke="#00ff00" stroke-width="1.35" fill="none"/>
<polyline points="324.50,371.30 355.48,327.20 386.45,290.80 417.42,261.50 448.40,237.20" fill="none" stroke="#0000ff" stroke-width="1.4" stroke-linejoin="round"/>
<path d="M321.40 371.30H327.60M324.50 368.20V374.40M322.31 369.11L326.69 373.49M322.31 373.49L326.69 369.11" stroke="#0000ff" stroke-width="1.35" fill="none"/>
<path d="M352.38 327.20H358.58M355.48 324.10V330.30M353.28 325.01L357.67 329.39M353.28 329.39L357.67 325.01" stroke="#0000ff" stroke-width="1.35" fill="none"/>
<path d="M383.35 290.80H389.55M386.45 287.70V293.90M384.26 288.61L388.64 292.99M384.26 292.99L388.64 288.61" stroke="#0000ff" stroke-width="1.35" fill="none"/>
<path d="M414.32 261.50H420.52M417.42 258.40V264.60M415.23 259.31L419.62 263.69M415.23 263.69L419.62 259.31" stroke="#0000ff" stroke-width="1.35" fill="none"/>
<path d="M445.30 237.20H451.50M448.40 234.10V240.30M446.21 235.01L450.59 239.39M446.21 239.39L450.59 235.01" stroke="#0000ff" stroke-width="1.35" fill="none"/>
<polyline points="324.50,366.50 355.48,322.50 386.45,287.20 417.42,258.50 448.40,234.80" fill="none" stroke="#ff00ff" stroke-width="1.4" stroke-linejoin="round"/>
<path d="M321.40 366.50H327.60M324.50 363.40V369.60M322.31 364.31L326.69 368.69M322.31 368.69L326.69 364.31" stroke="#ff00ff" stroke-width="1.35" fill="none"/>
<path d="M352.38 322.50H358.58M355.48 319.40V325.60M353.28 320.31L357.67 324.69M353.28 324.69L357.67 320.31" stroke="#ff00ff" stroke-width="1.35" fill="none"/>
<path d="M383.35 287.20H389.55M386.45 284.10V290.30M384.26 285.01L388.64 289.39M384.26 289.39L388.64 285.01" stroke="#ff00ff" stroke-width="1.35" fill="none"/>
<path d="M414.32 258.50H420.52M417.42 255.40V261.60M415.23 256.31L419.62 260.69M415.23 260.69L419.62 256.31" stroke="#ff00ff" stroke-width="1.35" fill="none"/>
<path d="M445.30 234.80H451.50M448.40 231.70V237.90M446.21 232.61L450.59 236.99M446.21 236.99L450.59 232.61" stroke="#ff00ff" stroke-width="1.35" fill="none"/>
<polyline points="324.50,380.00 355.48,334.60 386.45,296.70 417.42,266.50 448.40,241.40" fill="none" stroke="#000000" stroke-width="1.4" stroke-linejoin="round"/>
<path d="M321.40 380.00H327.60M324.50 376.90V383.10M322.31 377.81L326.69 382.19M322.31 382.19L326.69 377.81" stroke="#000000" stroke-width="1.35" fill="none"/>
<path d="M352.38 334.60H358.58M355.48 331.50V337.70M353.28 332.41L357.67 336.79M353.28 336.79L357.67 332.41" stroke="#000000" stroke-width="1.35" fill="none"/>
<path d="M383.35 296.70H389.55M386.45 293.60V299.80M384.26 294.51L388.64 298.89M384.26 298.89L388.64 294.51" stroke="#000000" stroke-width="1.35" fill="none"/>
<path d="M414.32 266.50H420.52M417.42 263.40V269.60M415.23 264.31L419.62 268.69M415.23 268.69L419.62 264.31" stroke="#000000" stroke-width="1.35" fill="none"/>
<path d="M445.30 241.40H451.50M448.40 238.30V244.50M446.21 239.21L450.59 243.59M446.21 243.59L450.59 239.21" stroke="#000000" stroke-width="1.35" fill="none"/>
<rect x="457.80" y="226.40" width="87.60" height="50.80" fill="#ffffff" stroke="#a0a0a0" stroke-width="0.8"/>
<path d="M460.20 232.40H478.40" stroke="#ff0000" stroke-width="1.4"/>
<path d="M466.20 232.40H472.40M469.30 229.30V235.50M467.11 230.21L471.49 234.59M467.11 234.59L471.49 230.21" stroke="#ff0000" stroke-width="1.35" fill="none"/>
<text class="lg" transform="translate(480.10 235.00) rotate(0.04)" font-size="7.33" fill="#000000" stroke="#000000">HHO-HSCN</text>
<path d="M460.20 242.20H478.40" stroke="#00ff00" stroke-width="1.4"/>
<path d="M466.20 242.20H472.40M469.30 239.10V245.30M467.11 240.01L471.49 244.39M467.11 244.39L471.49 240.01" stroke="#00ff00" stroke-width="1.35" fill="none"/>
<text class="lg" transform="translate(480.10 244.80) rotate(0.04)" font-size="7.33" fill="#000000" stroke="#000000">RSA-HSCN</text>
<path d="M460.20 252.00H478.40" stroke="#0000ff" stroke-width="1.4"/>
<path d="M466.20 252.00H472.40M469.30 248.90V255.10M467.11 249.81L471.49 254.19M467.11 254.19L471.49 249.81" stroke="#0000ff" stroke-width="1.35" fill="none"/>
<text class="lg" transform="translate(480.10 254.60) rotate(0.04)" font-size="7.33" fill="#000000" stroke="#000000">WHO-HSCN</text>
<path d="M460.20 261.80H478.40" stroke="#ff00ff" stroke-width="1.4"/>
<path d="M466.20 261.80H472.40M469.30 258.70V264.90M467.11 259.61L471.49 263.99M467.11 263.99L471.49 259.61" stroke="#ff00ff" stroke-width="1.35" fill="none"/>
<text class="lg" transform="translate(480.10 264.40) rotate(0.04)" font-size="7.33" fill="#000000" stroke="#000000">EVO-HSCN</text>
<path d="M460.20 271.60H478.40" stroke="#000000" stroke-width="1.4"/>
<path d="M466.20 271.60H472.40M469.30 268.50V274.70M467.11 269.41L471.49 273.79M467.11 273.79L471.49 269.41" stroke="#000000" stroke-width="1.35" fill="none"/>
<text class="lg" transform="translate(480.10 274.20) rotate(0.04)" font-size="7.33" fill="#000000" stroke="#000000">RP-WHEVO-HSCN</text>
<text class="cap" transform="translate(431.80 423.00) rotate(0.04)" font-size="11.8" fill="#111" text-anchor="middle">(f)</text>
</g>
<g id="plot-g">
<path d="M61.88 444.40V602.30M91.45 444.40V602.30M121.02 444.40V602.30M32.30 584.76H150.60M32.30 567.21H150.60M32.30 549.67H150.60M32.30 532.12H150.60M32.30 514.58H150.60M32.30 497.03H150.60M32.30 479.49H150.60M32.30 461.94H150.60" stroke="#efefef" stroke-width="0.6" fill="none"/>
<rect x="32.30" y="444.40" width="118.30" height="157.90" fill="none" stroke="#a0a0a0" stroke-width="0.9"/>
<path d="M61.88 602.30v-1.3M61.88 444.40v1.3M91.45 602.30v-1.3M91.45 444.40v1.3M121.02 602.30v-1.3M121.02 444.40v1.3M32.30 584.76h1.3M150.60 584.76h-1.3M32.30 567.21h1.3M150.60 567.21h-1.3M32.30 549.67h1.3M150.60 549.67h-1.3M32.30 532.12h1.3M150.60 532.12h-1.3M32.30 514.58h1.3M150.60 514.58h-1.3M32.30 497.03h1.3M150.60 497.03h-1.3M32.30 479.49h1.3M150.60 479.49h-1.3M32.30 461.94h1.3M150.60 461.94h-1.3" stroke="#a0a0a0" stroke-width="0.8" fill="none"/>
<text transform="translate(32.30 612.90) rotate(0.04)" font-size="7.3" fill="#3a3a3a" stroke="#3a3a3a" text-anchor="middle">5</text>
<text transform="translate(61.88 612.90) rotate(0.04)" font-size="7.3" fill="#3a3a3a" stroke="#3a3a3a" text-anchor="middle">10</text>
<text transform="translate(91.45 612.90) rotate(0.04)" font-size="7.3" fill="#3a3a3a" stroke="#3a3a3a" text-anchor="middle">15</text>
<text transform="translate(121.02 612.90) rotate(0.04)" font-size="7.3" fill="#3a3a3a" stroke="#3a3a3a" text-anchor="middle">20</text>
<text transform="translate(150.60 612.90) rotate(0.04)" font-size="7.3" fill="#3a3a3a" stroke="#3a3a3a" text-anchor="middle">25</text>
<text transform="translate(29.80 605.25) rotate(0.04)" font-size="7.3" fill="#3a3a3a" stroke="#3a3a3a" text-anchor="end">0</text>
<text transform="translate(29.80 587.71) rotate(0.04)" font-size="7.3" fill="#3a3a3a" stroke="#3a3a3a" text-anchor="end">0.05</text>
<text transform="translate(29.80 570.16) rotate(0.04)" font-size="7.3" fill="#3a3a3a" stroke="#3a3a3a" text-anchor="end">0.1</text>
<text transform="translate(29.80 552.62) rotate(0.04)" font-size="7.3" fill="#3a3a3a" stroke="#3a3a3a" text-anchor="end">0.15</text>
<text transform="translate(29.80 535.07) rotate(0.04)" font-size="7.3" fill="#3a3a3a" stroke="#3a3a3a" text-anchor="end">0.2</text>
<text transform="translate(29.80 517.53) rotate(0.04)" font-size="7.3" fill="#3a3a3a" stroke="#3a3a3a" text-anchor="end">0.25</text>
<text transform="translate(29.80 499.98) rotate(0.04)" font-size="7.3" fill="#3a3a3a" stroke="#3a3a3a" text-anchor="end">0.3</text>
<text transform="translate(29.80 482.44) rotate(0.04)" font-size="7.3" fill="#3a3a3a" stroke="#3a3a3a" text-anchor="end">0.35</text>
<text transform="translate(29.80 464.89) rotate(0.04)" font-size="7.3" fill="#3a3a3a" stroke="#3a3a3a" text-anchor="end">0.4</text>
<text transform="translate(29.80 447.35) rotate(0.04)" font-size="7.3" fill="#3a3a3a" stroke="#3a3a3a" text-anchor="end">0.45</text>
<text transform="translate(91.75 622.70) rotate(0.04)" font-size="7.25" fill="#3a3a3a" stroke="#3a3a3a" text-anchor="middle">SNR</text>
<text transform="translate(12.00 523.40) rotate(-89.96)" font-size="7.25" fill="#3a3a3a" stroke="#3a3a3a" text-anchor="middle">RMSE</text>
<polyline points="32.30,562.40 61.88,523.10 91.45,493.50 121.02,469.90 150.60,450.30" fill="none" stroke="#ff0000" stroke-width="1.4" stroke-linejoin="round"/>
<path d="M29.20 562.40H35.40M32.30 559.30V565.50M30.11 560.21L34.49 564.59M30.11 564.59L34.49 560.21" stroke="#ff0000" stroke-width="1.35" fill="none"/>
<path d="M58.77 523.10H64.97M61.88 520.00V526.20M59.68 520.91L64.07 525.29M59.68 525.29L64.07 520.91" stroke="#ff0000" stroke-width="1.35" fill="none"/>
<path d="M88.35 493.50H94.55M91.45 490.40V496.60M89.26 491.31L93.64 495.69M89.26 495.69L93.64 491.31" stroke="#ff0000" stroke-width="1.35" fill="none"/>
<path d="M117.92 469.90H124.12M121.02 466.80V473.00M118.83 467.71L123.22 472.09M118.83 472.09L123.22 467.71" stroke="#ff0000" stroke-width="1.35" fill="none"/>
<path d="M147.50 450.30H153.70M150.60 447.20V453.40M148.41 448.11L152.79 452.49M148.41 452.49L152.79 448.11" stroke="#ff0000" stroke-width="1.35" fill="none"/>
<polyline points="32.30,578.10 61.88,533.10 91.45,501.20 121.02,476.20 150.60,455.80" fill="none" stroke="#00ff00" stroke-width="1.4" stroke-linejoin="round"/>
<path d="M29.20 578.10H35.40M32.30 575.00V581.20M30.11 575.91L34.49 580.29M30.11 580.29L34.49 575.91" stroke="#00ff00" stroke-width="1.35" fill="none"/>
<path d="M58.77 533.10H64.97M61.88 530.00V536.20M59.68 530.91L64.07 535.29M59.68 535.29L64.07 530.91" stroke="#00ff00" stroke-width="1.35" fill="none"/>
<path d="M88.35 501.20H94.55M91.45 498.10V504.30M89.26 499.01L93.64 503.39M89.26 503.39L93.64 499.01" stroke="#00ff00" stroke-width="1.35" fill="none"/>
<path d="M117.92 476.20H124.12M121.02 473.10V479.30M118.83 474.01L123.22 478.39M118.83 478.39L123.22 474.01" stroke="#00ff00" stroke-width="1.35" fill="none"/>
<path d="M147.50 455.80H153.70M150.60 452.70V458.90M148.41 453.61L152.79 457.99M148.41 457.99L152.79 453.61" stroke="#00ff00" stroke-width="1.35" fill="none"/>
<polyline points="32.30,572.10 61.88,530.00 91.45,499.00 121.02,474.30 150.60,454.20" fill="none" stroke="#0000ff" stroke-width="1.4" stroke-linejoin="round"/>
<path d="M29.20 572.10H35.40M32.30 569.00V575.20M30.11 569.91L34.49 574.29M30.11 574.29L34.49 569.91" stroke="#0000ff" stroke-width="1.35" fill="none"/>
<path d="M58.77 530.00H64.97M61.88 526.90V533.10M59.68 527.81L64.07 532.19M59.68 532.19L64.07 527.81" stroke="#0000ff" stroke-width="1.35" fill="none"/>
<path d="M88.35 499.00H94.55M91.45 495.90V502.10M89.26 496.81L93.64 501.19M89.26 501.19L93.64 496.81" stroke="#0000ff" stroke-width="1.35" fill="none"/>
<path d="M117.92 474.30H124.12M121.02 471.20V477.40M118.83 472.11L123.22 476.49M118.83 476.49L123.22 472.11" stroke="#0000ff" stroke-width="1.35" fill="none"/>
<path d="M147.50 454.20H153.70M150.60 451.10V457.30M148.41 452.01L152.79 456.39M148.41 456.39L152.79 452.01" stroke="#0000ff" stroke-width="1.35" fill="none"/>
<polyline points="32.30,567.00 61.88,526.20 91.45,496.10 121.02,472.10 150.60,452.50" fill="none" stroke="#ff00ff" stroke-width="1.4" stroke-linejoin="round"/>
<path d="M29.20 567.00H35.40M32.30 563.90V570.10M30.11 564.81L34.49 569.19M30.11 569.19L34.49 564.81" stroke="#ff00ff" stroke-width="1.35" fill="none"/>
<path d="M58.77 526.20H64.97M61.88 523.10V529.30M59.68 524.01L64.07 528.39M59.68 528.39L64.07 524.01" stroke="#ff00ff" stroke-width="1.35" fill="none"/>
<path d="M88.35 496.10H94.55M91.45 493.00V499.20M89.26 493.91L93.64 498.29M89.26 498.29L93.64 493.91" stroke="#ff00ff" stroke-width="1.35" fill="none"/>
<path d="M117.92 472.10H124.12M121.02 469.00V475.20M118.83 469.91L123.22 474.29M118.83 474.29L123.22 469.91" stroke="#ff00ff" stroke-width="1.35" fill="none"/>
<path d="M147.50 452.50H153.70M150.60 449.40V455.60M148.41 450.31L152.79 454.69M148.41 454.69L152.79 450.31" stroke="#ff00ff" stroke-width="1.35" fill="none"/>
<polyline points="32.30,585.80 61.88,536.70 91.45,503.70 121.02,478.30 150.60,457.50" fill="none" stroke="#000000" stroke-width="1.4" stroke-linejoin="round"/>
<path d="M29.20 585.80H35.40M32.30 582.70V588.90M30.11 583.61L34.49 587.99M30.11 587.99L34.49 583.61" stroke="#000000" stroke-width="1.35" fill="none"/>
<path d="M58.77 536.70H64.97M61.88 533.60V539.80M59.68 534.51L64.07 538.89M59.68 538.89L64.07 534.51" stroke="#000000" stroke-width="1.35" fill="none"/>
<path d="M88.35 503.70H94.55M91.45 500.60V506.80M89.26 501.51L93.64 505.89M89.26 505.89L93.64 501.51" stroke="#000000" stroke-width="1.35" fill="none"/>
<path d="M117.92 478.30H124.12M121.02 475.20V481.40M118.83 476.11L123.22 480.49M118.83 480.49L123.22 476.11" stroke="#000000" stroke-width="1.35" fill="none"/>
<path d="M147.50 457.50H153.70M150.60 454.40V460.60M148.41 455.31L152.79 459.69M148.41 459.69L152.79 455.31" stroke="#000000" stroke-width="1.35" fill="none"/>
<rect x="159.20" y="444.30" width="88.20" height="50.70" fill="#ffffff" stroke="#a0a0a0" stroke-width="0.8"/>
<path d="M161.60 450.30H179.80" stroke="#ff0000" stroke-width="1.4"/>
<path d="M167.60 450.30H173.80M170.70 447.20V453.40M168.51 448.11L172.89 452.49M168.51 452.49L172.89 448.11" stroke="#ff0000" stroke-width="1.35" fill="none"/>
<text class="lg" transform="translate(181.50 452.90) rotate(0.04)" font-size="7.33" fill="#000000" stroke="#000000">HHO-HSCN</text>
<path d="M161.60 460.10H179.80" stroke="#00ff00" stroke-width="1.4"/>
<path d="M167.60 460.10H173.80M170.70 457.00V463.20M168.51 457.91L172.89 462.29M168.51 462.29L172.89 457.91" stroke="#00ff00" stroke-width="1.35" fill="none"/>
<text class="lg" transform="translate(181.50 462.70) rotate(0.04)" font-size="7.33" fill="#000000" stroke="#000000">RSA-HSCN</text>
<path d="M161.60 469.90H179.80" stroke="#0000ff" stroke-width="1.4"/>
<path d="M167.60 469.90H173.80M170.70 466.80V473.00M168.51 467.71L172.89 472.09M168.51 472.09L172.89 467.71" stroke="#0000ff" stroke-width="1.35" fill="none"/>
<text class="lg" transform="translate(181.50 472.50) rotate(0.04)" font-size="7.33" fill="#000000" stroke="#000000">WHO-HSCN</text>
<path d="M161.60 479.70H179.80" stroke="#ff00ff" stroke-width="1.4"/>
<path d="M167.60 479.70H173.80M170.70 476.60V482.80M168.51 477.51L172.89 481.89M168.51 481.89L172.89 477.51" stroke="#ff00ff" stroke-width="1.35" fill="none"/>
<text class="lg" transform="translate(181.50 482.30) rotate(0.04)" font-size="7.33" fill="#000000" stroke="#000000">EVO-HSCN</text>
<path d="M161.60 489.50H179.80" stroke="#000000" stroke-width="1.4"/>
<path d="M167.60 489.50H173.80M170.70 486.40V492.60M168.51 487.31L172.89 491.69M168.51 491.69L172.89 487.31" stroke="#000000" stroke-width="1.35" fill="none"/>
<text class="lg" transform="translate(181.50 492.10) rotate(0.04)" font-size="7.33" fill="#000000" stroke="#000000">RP-WHEVO-HSCN</text>
<text class="cap" transform="translate(133.20 640.70) rotate(0.04)" font-size="11.8" fill="#111" text-anchor="middle">(<tspan font-weight="bold">g</tspan>)</text>
</g>
<g id="plot-h">
<path d="M360.40 444.40V602.30M389.95 444.40V602.30M419.40 444.40V602.30M330.40 584.76H448.40M330.40 567.21H448.40M330.40 549.67H448.40M330.40 532.12H448.40M330.40 514.58H448.40M330.40 497.03H448.40M330.40 479.49H448.40M330.40 461.94H448.40" stroke="#efefef" stroke-width="0.6" fill="none"/>
<rect x="330.40" y="444.40" width="118.00" height="157.90" fill="none" stroke="#a0a0a0" stroke-width="0.9"/>
<path d="M360.40 602.30v-1.3M360.40 444.40v1.3M389.95 602.30v-1.3M389.95 444.40v1.3M419.40 602.30v-1.3M419.40 444.40v1.3M330.40 584.76h1.3M448.40 584.76h-1.3M330.40 567.21h1.3M448.40 567.21h-1.3M330.40 549.67h1.3M448.40 549.67h-1.3M330.40 532.12h1.3M448.40 532.12h-1.3M330.40 514.58h1.3M448.40 514.58h-1.3M330.40 497.03h1.3M448.40 497.03h-1.3M330.40 479.49h1.3M448.40 479.49h-1.3M330.40 461.94h1.3M448.40 461.94h-1.3" stroke="#a0a0a0" stroke-width="0.8" fill="none"/>
<text transform="translate(330.60 612.90) rotate(0.04)" font-size="7.3" fill="#3a3a3a" stroke="#3a3a3a" text-anchor="middle">5</text>
<text transform="translate(360.40 612.90) rotate(0.04)" font-size="7.3" fill="#3a3a3a" stroke="#3a3a3a" text-anchor="middle">10</text>
<text transform="translate(389.95 612.90) rotate(0.04)" font-size="7.3" fill="#3a3a3a" stroke="#3a3a3a" text-anchor="middle">15</text>
<text transform="translate(419.40 612.90) rotate(0.04)" font-size="7.3" fill="#3a3a3a" stroke="#3a3a3a" text-anchor="middle">20</text>
<text transform="translate(448.70 612.90) rotate(0.04)" font-size="7.3" fill="#3a3a3a" stroke="#3a3a3a" text-anchor="middle">25</text>
<text transform="translate(327.90 605.25) rotate(0.04)" font-size="7.3" fill="#3a3a3a" stroke="#3a3a3a" text-anchor="end">0</text>
<text transform="translate(327.90 587.71) rotate(0.04)" font-size="7.3" fill="#3a3a3a" stroke="#3a3a3a" text-anchor="end">0.05</text>
<text transform="translate(327.90 570.16) rotate(0.04)" font-size="7.3" fill="#3a3a3a" stroke="#3a3a3a" text-anchor="end">0.1</text>
<text transform="translate(327.90 552.62) rotate(0.04)" font-size="7.3" fill="#3a3a3a" stroke="#3a3a3a" text-anchor="end">0.15</text>
<text transform="translate(327.90 535.07) rotate(0.04)" font-size="7.3" fill="#3a3a3a" stroke="#3a3a3a" text-anchor="end">0.2</text>
<text transform="translate(327.90 517.53) rotate(0.04)" font-size="7.3" fill="#3a3a3a" stroke="#3a3a3a" text-anchor="end">0.25</text>
<text transform="translate(327.90 499.98) rotate(0.04)" font-size="7.3" fill="#3a3a3a" stroke="#3a3a3a" text-anchor="end">0.3</text>
<text transform="translate(327.90 482.44) rotate(0.04)" font-size="7.3" fill="#3a3a3a" stroke="#3a3a3a" text-anchor="end">0.35</text>
<text transform="translate(327.90 464.89) rotate(0.04)" font-size="7.3" fill="#3a3a3a" stroke="#3a3a3a" text-anchor="end">0.4</text>
<text transform="translate(327.90 447.35) rotate(0.04)" font-size="7.3" fill="#3a3a3a" stroke="#3a3a3a" text-anchor="end">0.45</text>
<text transform="translate(389.70 622.70) rotate(0.04)" font-size="7.25" fill="#3a3a3a" stroke="#3a3a3a" text-anchor="middle">SNR</text>
<text transform="translate(310.30 523.20) rotate(-89.96)" font-size="7.25" fill="#3a3a3a" stroke="#3a3a3a" text-anchor="middle">SMAPE</text>
<polyline points="330.60,584.10 360.40,546.30 389.95,511.30 419.40,479.70 448.70,450.40" fill="none" stroke="#ff0000" stroke-width="1.4" stroke-linejoin="round"/>
<path d="M327.50 584.10H333.70M330.60 581.00V587.20M328.41 581.91L332.79 586.29M328.41 586.29L332.79 581.91" stroke="#ff0000" stroke-width="1.35" fill="none"/>
<path d="M357.30 546.30H363.50M360.40 543.20V549.40M358.21 544.11L362.59 548.49M358.21 548.49L362.59 544.11" stroke="#ff0000" stroke-width="1.35" fill="none"/>
<path d="M386.85 511.30H393.05M389.95 508.20V514.40M387.76 509.11L392.14 513.49M387.76 513.49L392.14 509.11" stroke="#ff0000" stroke-width="1.35" fill="none"/>
<path d="M416.30 479.70H422.50M419.40 476.60V482.80M417.21 477.51L421.59 481.89M417.21 481.89L421.59 477.51" stroke="#ff0000" stroke-width="1.35" fill="none"/>
<path d="M445.60 450.40H451.80M448.70 447.30V453.50M446.51 448.21L450.89 452.59M446.51 452.59L450.89 448.21" stroke="#ff0000" stroke-width="1.35" fill="none"/>
<polyline points="330.60,595.00 360.40,557.60 389.95,521.60 419.40,488.90 448.70,458.90" fill="none" stroke="#00ff00" stroke-width="1.4" stroke-linejoin="round"/>
<path d="M327.50 595.00H333.70M330.60 591.90V598.10M328.41 592.81L332.79 597.19M328.41 597.19L332.79 592.81" stroke="#00ff00" stroke-width="1.35" fill="none"/>
<path d="M357.30 557.60H363.50M360.40 554.50V560.70M358.21 555.41L362.59 559.79M358.21 559.79L362.59 555.41" stroke="#00ff00" stroke-width="1.35" fill="none"/>
<path d="M386.85 521.60H393.05M389.95 518.50V524.70M387.76 519.41L392.14 523.79M387.76 523.79L392.14 519.41" stroke="#00ff00" stroke-width="1.35" fill="none"/>
<path d="M416.30 488.90H422.50M419.40 485.80V492.00M417.21 486.71L421.59 491.09M417.21 491.09L421.59 486.71" stroke="#00ff00" stroke-width="1.35" fill="none"/>
<path d="M445.60 458.90H451.80M448.70 455.80V462.00M446.51 456.71L450.89 461.09M446.51 461.09L450.89 456.71" stroke="#00ff00" stroke-width="1.35" fill="none"/>
<polyline points="330.60,591.70 360.40,554.30 389.95,518.70 419.40,486.30 448.70,456.30" fill="none" stroke="#0000ff" stroke-width="1.4" stroke-linejoin="round"/>
<path d="M327.50 591.70H333.70M330.60 588.60V594.80M328.41 589.51L332.79 593.89M328.41 593.89L332.79 589.51" stroke="#0000ff" stroke-width="1.35" fill="none"/>
<path d="M357.30 554.30H363.50M360.40 551.20V557.40M358.21 552.11L362.59 556.49M358.21 556.49L362.59 552.11" stroke="#0000ff" stroke-width="1.35" fill="none"/>
<path d="M386.85 518.70H393.05M389.95 515.60V521.80M387.76 516.51L392.14 520.89M387.76 520.89L392.14 516.51" stroke="#0000ff" stroke-width="1.35" fill="none"/>
<path d="M416.30 486.30H422.50M419.40 483.20V489.40M417.21 484.11L421.59 488.49M417.21 488.49L421.59 484.11" stroke="#0000ff" stroke-width="1.35" fill="none"/>
<path d="M445.60 456.30H451.80M448.70 453.20V459.40M446.51 454.11L450.89 458.49M446.51 458.49L450.89 454.11" stroke="#0000ff" stroke-width="1.35" fill="none"/>
<polyline points="330.60,587.30 360.40,549.90 389.95,514.80 419.40,482.80 448.70,453.20" fill="none" stroke="#ff00ff" stroke-width="1.4" stroke-linejoin="round"/>
<path d="M327.50 587.30H333.70M330.60 584.20V590.40M328.41 585.11L332.79 589.49M328.41 589.49L332.79 585.11" stroke="#ff00ff" stroke-width="1.35" fill="none"/>
<path d="M357.30 549.90H363.50M360.40 546.80V553.00M358.21 547.71L362.59 552.09M358.21 552.09L362.59 547.71" stroke="#ff00ff" stroke-width="1.35" fill="none"/>
<path d="M386.85 514.80H393.05M389.95 511.70V517.90M387.76 512.61L392.14 516.99M387.76 516.99L392.14 512.61" stroke="#ff00ff" stroke-width="1.35" fill="none"/>
<path d="M416.30 482.80H422.50M419.40 479.70V485.90M417.21 480.61L421.59 484.99M417.21 484.99L421.59 480.61" stroke="#ff00ff" stroke-width="1.35" fill="none"/>
<path d="M445.60 453.20H451.80M448.70 450.10V456.30M446.51 451.01L450.89 455.39M446.51 455.39L450.89 451.01" stroke="#ff00ff" stroke-width="1.35" fill="none"/>
<polyline points="330.60,598.60 360.40,561.30 389.95,524.70 419.40,492.00 448.70,461.50" fill="none" stroke="#000000" stroke-width="1.4" stroke-linejoin="round"/>
<path d="M327.50 598.60H333.70M330.60 595.50V601.70M328.41 596.41L332.79 600.79M328.41 600.79L332.79 596.41" stroke="#000000" stroke-width="1.35" fill="none"/>
<path d="M357.30 561.30H363.50M360.40 558.20V564.40M358.21 559.11L362.59 563.49M358.21 563.49L362.59 559.11" stroke="#000000" stroke-width="1.35" fill="none"/>
<path d="M386.85 524.70H393.05M389.95 521.60V527.80M387.76 522.51L392.14 526.89M387.76 526.89L392.14 522.51" stroke="#000000" stroke-width="1.35" fill="none"/>
<path d="M416.30 492.00H422.50M419.40 488.90V495.10M417.21 489.81L421.59 494.19M417.21 494.19L421.59 489.81" stroke="#000000" stroke-width="1.35" fill="none"/>
<path d="M445.60 461.50H451.80M448.70 458.40V464.60M446.51 459.31L450.89 463.69M446.51 463.69L450.89 459.31" stroke="#000000" stroke-width="1.35" fill="none"/>
<rect x="457.80" y="444.30" width="87.60" height="50.80" fill="#ffffff" stroke="#a0a0a0" stroke-width="0.8"/>
<path d="M460.20 450.30H478.40" stroke="#ff0000" stroke-width="1.4"/>
<path d="M466.20 450.30H472.40M469.30 447.20V453.40M467.11 448.11L471.49 452.49M467.11 452.49L471.49 448.11" stroke="#ff0000" stroke-width="1.35" fill="none"/>
<text class="lg" transform="translate(480.10 452.90) rotate(0.04)" font-size="7.33" fill="#000000" stroke="#000000">HHO-HSCN</text>
<path d="M460.20 460.10H478.40" stroke="#00ff00" stroke-width="1.4"/>
<path d="M466.20 460.10H472.40M469.30 457.00V463.20M467.11 457.91L471.49 462.29M467.11 462.29L471.49 457.91" stroke="#00ff00" stroke-width="1.35" fill="none"/>
<text class="lg" transform="translate(480.10 462.70) rotate(0.04)" font-size="7.33" fill="#000000" stroke="#000000">RSA-HSCN</text>
<path d="M460.20 469.90H478.40" stroke="#0000ff" stroke-width="1.4"/>
<path d="M466.20 469.90H472.40M469.30 466.80V473.00M467.11 467.71L471.49 472.09M467.11 472.09L471.49 467.71" stroke="#0000ff" stroke-width="1.35" fill="none"/>
<text class="lg" transform="translate(480.10 472.50) rotate(0.04)" font-size="7.33" fill="#000000" stroke="#000000">WHO-HSCN</text>
<path d="M460.20 479.70H478.40" stroke="#ff00ff" stroke-width="1.4"/>
<path d="M466.20 479.70H472.40M469.30 476.60V482.80M467.11 477.51L471.49 481.89M467.11 481.89L471.49 477.51" stroke="#ff00ff" stroke-width="1.35" fill="none"/>
<text class="lg" transform="translate(480.10 482.30) rotate(0.04)" font-size="7.33" fill="#000000" stroke="#000000">EVO-HSCN</text>
<path d="M460.20 489.50H478.40" stroke="#000000" stroke-width="1.4"/>
<path d="M466.20 489.50H472.40M469.30 486.40V492.60M467.11 487.31L471.49 491.69M467.11 491.69L471.49 487.31" stroke="#000000" stroke-width="1.35" fill="none"/>
<text class="lg" transform="translate(480.10 492.10) rotate(0.04)" font-size="7.33" fill="#000000" stroke="#000000">RP-WHEVO-HSCN</text>
<text class="cap" transform="translate(431.20 640.70) rotate(0.04)" font-size="11.8" fill="#111" text-anchor="middle">(<tspan font-weight="bold">h</tspan>)</text>
</g>
</svg></body></html>
